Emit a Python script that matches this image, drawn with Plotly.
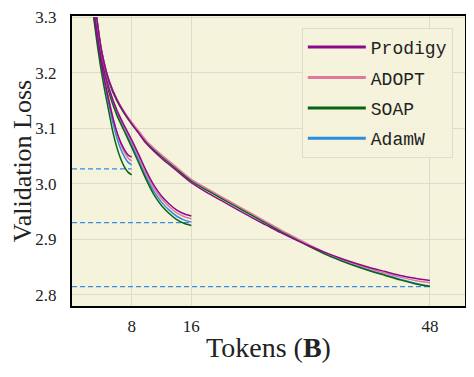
import plotly.graph_objects as go

optimizers = ["Prodigy", "ADOPT", "SOAP", "AdamW"]
colors = {"Prodigy": "#8b0a8b", "ADOPT": "#e0789a", "SOAP": "#0a6414", "AdamW": "#2a8ee0"}

# 8B runs
x_8b = {
    "SOAP":    [2.9, 3.5, 4.0, 4.5, 5.0, 5.5, 6.0, 6.5, 7.0, 7.5, 8.0],
    "AdamW":   [3.0, 3.55, 4.05, 4.55, 5.05, 5.55, 6.05, 6.55, 7.05, 7.5, 8.0],
    "ADOPT":   [3.1, 3.6, 4.1, 4.6, 5.1, 5.6, 6.1, 6.6, 7.1, 7.55, 8.0],
    "Prodigy": [3.05, 3.55, 4.05, 4.55, 5.05, 5.55, 6.05, 6.55, 7.05, 7.5, 8.0],
}
y_8b = {
    "SOAP":    [3.30, 3.240, 3.197, 3.160, 3.126, 3.092, 3.066, 3.046, 3.031, 3.021, 3.016],
    "AdamW":   [3.30, 3.247, 3.205, 3.169, 3.137, 3.106, 3.081, 3.062, 3.048, 3.039, 3.034],
    "ADOPT":   [3.30, 3.252, 3.211, 3.175, 3.143, 3.113, 3.088, 3.069, 3.055, 3.046, 3.041],
    "Prodigy": [3.30, 3.250, 3.209, 3.174, 3.143, 3.115, 3.092, 3.074, 3.061, 3.052, 3.048],
}

# 16B runs
x_16b = {
    "SOAP":    [2.95, 3.5, 4, 5, 6, 7, 8, 9, 10, 11, 12, 13, 14, 15, 16],
    "AdamW":   [3.0, 3.5, 4, 5, 6, 7, 8, 9, 10, 11, 12, 13, 14, 15, 16],
    "ADOPT":   [3.1, 3.55, 4.05, 5, 6, 7, 8, 9, 10, 11, 12, 13, 14, 15, 16],
    "Prodigy": [3.05, 3.5, 4, 5, 6, 7, 8, 9, 10, 11, 12, 13, 14, 15, 16],
}
y_16b = {
    "SOAP":    [3.30, 3.250, 3.213, 3.162, 3.124, 3.095, 3.066, 3.036, 3.006, 2.980, 2.961, 2.947, 2.936, 2.929, 2.925],
    "AdamW":   [3.30, 3.254, 3.217, 3.166, 3.128, 3.099, 3.071, 3.041, 3.011, 2.986, 2.967, 2.953, 2.942, 2.935, 2.931],
    "ADOPT":   [3.30, 3.258, 3.221, 3.170, 3.132, 3.103, 3.076, 3.047, 3.017, 2.992, 2.973, 2.959, 2.948, 2.941, 2.937],
    "Prodigy": [3.30, 3.257, 3.220, 3.170, 3.133, 3.105, 3.079, 3.051, 3.022, 2.997, 2.978, 2.964, 2.953, 2.946, 2.942],
}

# 48B runs
x_48b = [3.3, 4, 5, 6, 7, 8, 9, 10, 12, 14, 16, 18, 20, 22, 24, 26, 28, 30, 32, 34, 36, 38, 40, 42, 44, 46, 48]
y_48b = {
    "SOAP":    [3.30, 3.235, 3.182, 3.150, 3.127, 3.108, 3.091, 3.074, 3.049, 3.027, 3.005, 2.989, 2.974, 2.959, 2.944, 2.929, 2.914, 2.900, 2.886, 2.873, 2.862, 2.852, 2.843, 2.835, 2.827, 2.820, 2.815],
    "AdamW":   [3.30, 3.236, 3.183, 3.151, 3.128, 3.109, 3.092, 3.075, 3.050, 3.028, 3.006, 2.990, 2.975, 2.960, 2.945, 2.930, 2.915, 2.901, 2.887, 2.874, 2.863, 2.853, 2.844, 2.836, 2.828, 2.821, 2.816],
    "ADOPT":   [3.30, 3.238, 3.185, 3.153, 3.130, 3.111, 3.094, 3.077, 3.052, 3.030, 3.008, 2.992, 2.977, 2.962, 2.947, 2.932, 2.917, 2.903, 2.889, 2.876, 2.865, 2.855, 2.847, 2.839, 2.832, 2.826, 2.822],
    "Prodigy": [3.30, 3.237, 3.184, 3.152, 3.128, 3.108, 3.090, 3.072, 3.046, 3.024, 3.002, 2.985, 2.970, 2.955, 2.940, 2.926, 2.912, 2.899, 2.887, 2.876, 2.866, 2.857, 2.849, 2.842, 2.835, 2.830, 2.826],
}

# dashed reference levels
ref_levels = [3.027, 2.930, 2.815]
ref_ends = [8, 16, 48]

x_ticks = [8, 16, 48]
y_ticks = [2.8, 2.9, 3.0, 3.1, 3.2, 3.3]

fig = go.Figure()

for lvl, end in zip(ref_levels, ref_ends):
    fig.add_trace(go.Scatter(x=[0, end], y=[lvl, lvl], mode="lines",
                             line=dict(color="#3a8ee0", width=1.3, dash="5px,3px"),
                             showlegend=False, hoverinfo="skip"))

draw_order = ["AdamW", "SOAP", "ADOPT", "Prodigy"]
for name in draw_order:
    c = colors[name]
    fig.add_trace(go.Scatter(x=x_8b[name], y=y_8b[name], mode="lines",
                             line=dict(color=c, width=1.5, shape="spline", smoothing=0.8),
                             showlegend=False, legendgroup=name))
    fig.add_trace(go.Scatter(x=x_16b[name], y=y_16b[name], mode="lines",
                             line=dict(color=c, width=1.5, shape="spline", smoothing=0.8),
                             showlegend=False, legendgroup=name))
for name in draw_order:
    c = colors[name]
    fig.add_trace(go.Scatter(x=x_48b, y=y_48b[name], mode="lines",
                             line=dict(color=c, width=1.5, shape="spline", smoothing=0.8),
                             showlegend=False, legendgroup=name))

# legend entries in order
for name in optimizers:
    fig.add_trace(go.Scatter(x=[None], y=[None], mode="lines", name=name,
                             line=dict(color=colors[name], width=3), legendgroup=name))

fig.update_layout(
    width=474, height=377,
    margin=dict(l=64, r=17, t=8, b=79),
    paper_bgcolor="white",
    plot_bgcolor="#f5f3dc",
    font=dict(family="Liberation Serif", color="#222"),
    showlegend=True,
    legend=dict(x=0.969, y=0.959, xanchor="right", yanchor="top",
                bgcolor="rgba(245,243,220,0.9)", bordercolor="#dcdcd0", borderwidth=1,
                font=dict(family="Liberation Mono", size=18, color="#222"),
                traceorder="grouped", tracegroupgap=4, itemwidth=58),
)
fig.update_xaxes(range=[0, 52.7], tickvals=x_ticks, ticktext=[str(t) for t in x_ticks],
                 showgrid=True, gridcolor="#dcdbcc", gridwidth=1, zeroline=False,
                 showline=True, linecolor="black", linewidth=2, mirror=True, automargin=False,
                 ticks="", tickfont=dict(size=17, family="Liberation Serif"), ticklabelstandoff=4,
                 title=dict(text="Tokens (<b>B</b>)", font=dict(size=28, family="Liberation Serif"), standoff=2))
fig.update_yaxes(range=[2.780, 3.302], tickvals=y_ticks, ticktext=[f"{t:.1f}" for t in y_ticks],
                 showgrid=True, gridcolor="#dcdbcc", gridwidth=1, zeroline=False,
                 showline=True, linecolor="black", linewidth=2, mirror=True, automargin=False,
                 ticks="", tickfont=dict(size=17, family="Liberation Serif"), ticklabelstandoff=10,
                 title=dict(text="Validation Loss", font=dict(size=26, family="Liberation Serif"), standoff=2))

fig.write_html("out.html")
